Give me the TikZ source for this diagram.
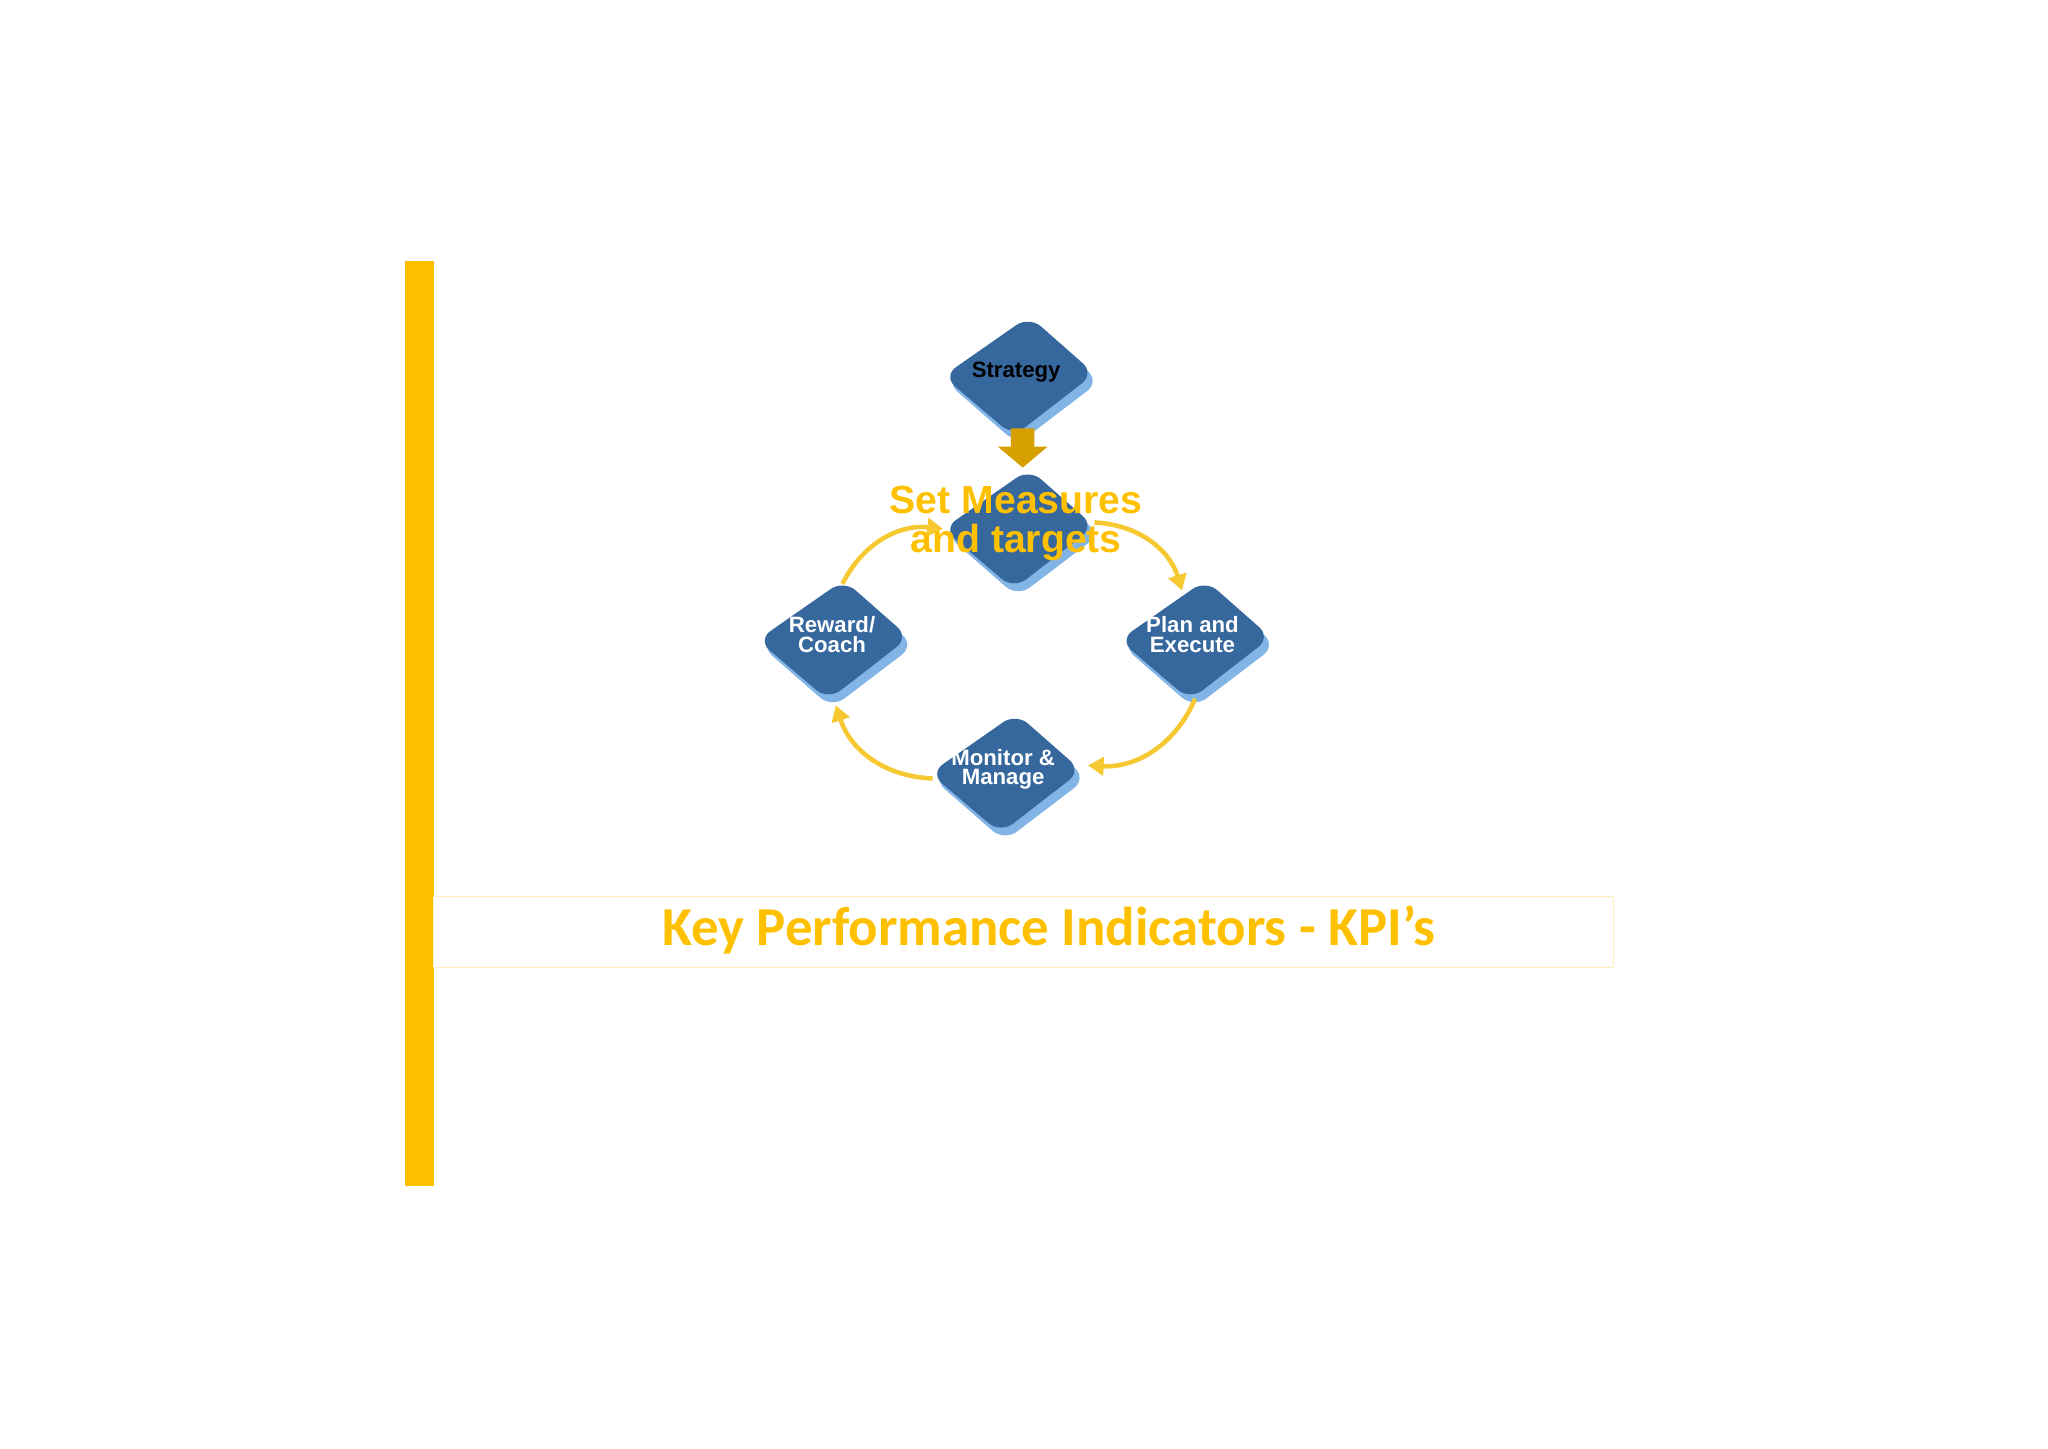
\documentclass[tikz,border=0pt]{standalone}
\usepackage{fontspec}
\setmainfont{Liberation Sans}
\newfontfamily\titlefont{Carlito}
\usetikzlibrary{arrows.meta,calc}
\definecolor{kyellow}{RGB}{255,192,0}
\definecolor{ayellow}{RGB}{246,200,50}
\definecolor{dblue}{RGB}{54,104,158}
\definecolor{lblue}{RGB}{130,180,230}
\definecolor{dgold}{RGB}{214,160,0}
\tikzset{
  cyc/.style={draw=ayellow,line width=3.5pt,-{Triangle[length=12pt,width=14pt]}},
  lbl/.style={font=\bfseries\fontsize{17}{18}\selectfont,text=white,align=center},
}
\newcommand{\kdiamond}[1]{%
  \fill[lblue,rounded corners=12pt] ($#1+(9,-42)$) -- ($#1+(62,4)$) -- ($#1+(-1,52)$) -- ($#1+(-56,4)$) -- cycle;
  \fill[dblue,rounded corners=12pt] ($#1+(8,-46)$) -- ($#1+(58,-2)$) -- ($#1+(-4,46)$) -- ($#1+(-58,0)$) -- cycle;
}
\begin{document}
\begin{tikzpicture}[x=1pt,y=-1pt]
\useasboundingbox (0,0) rectangle (1568,1109);
\fill[kyellow] (310,200) rectangle (332,908);
\draw[kyellow!25,line width=0.6pt] (332,686) rectangle (1235,741);
\node[text=kyellow,font=\titlefont\bfseries\fontsize{42}{46}\selectfont] (title) at (803,712) {Key Performance Indicators - KPI’s};
\kdiamond{(780,288)}
\kdiamond{(780,405)}
\kdiamond{(638,490)}
\kdiamond{(915,490)}
\kdiamond{(770,592)}
\node[lbl,text=black] (strat) at (778,285) {Strategy};
\node[lbl] (rew) at (637,486) {Reward/\\[-3pt]Coach};
\node[lbl] (plan) at (913,486) {Plan and\\[-3pt]Execute};
\node[lbl] (mon) at (768,589) {Monitor \&\\[-3pt]Manage};
\coordinate (a1) at (645,447); \coordinate (a2) at (722,405);
\coordinate (b1) at (838,400); \coordinate (b2) at (905,452);
\coordinate (c1) at (915,535); \coordinate (c2) at (833,586);
\coordinate (d1) at (714,596); \coordinate (d2) at (640,540);
\draw[cyc] (a1) to[bend left=35] (a2);
\draw[cyc] (b1) to[bend left=35] (b2);
\draw[cyc] (c1) to[bend left=35] (c2);
\draw[cyc] (d1) to[bend left=35] (d2);
\coordinate (s1) at (783,328); \coordinate (s2) at (783,358);
\fill[dgold] ($(s1)+(-9,0)$) -- ($(s1)+(9,0)$) -- ($(s1)+(9,14)$) -- ($(s1)+(19,14)$) -- (s2) -- ($(s1)+(-19,14)$) -- ($(s1)+(-9,14)$) -- cycle;
\node[text=kyellow,font=\bfseries\fontsize{30}{31}\selectfont,align=center] (set) at (778,401) {Set Measures\\[-1pt]and targets};
\end{tikzpicture}
\end{document}
